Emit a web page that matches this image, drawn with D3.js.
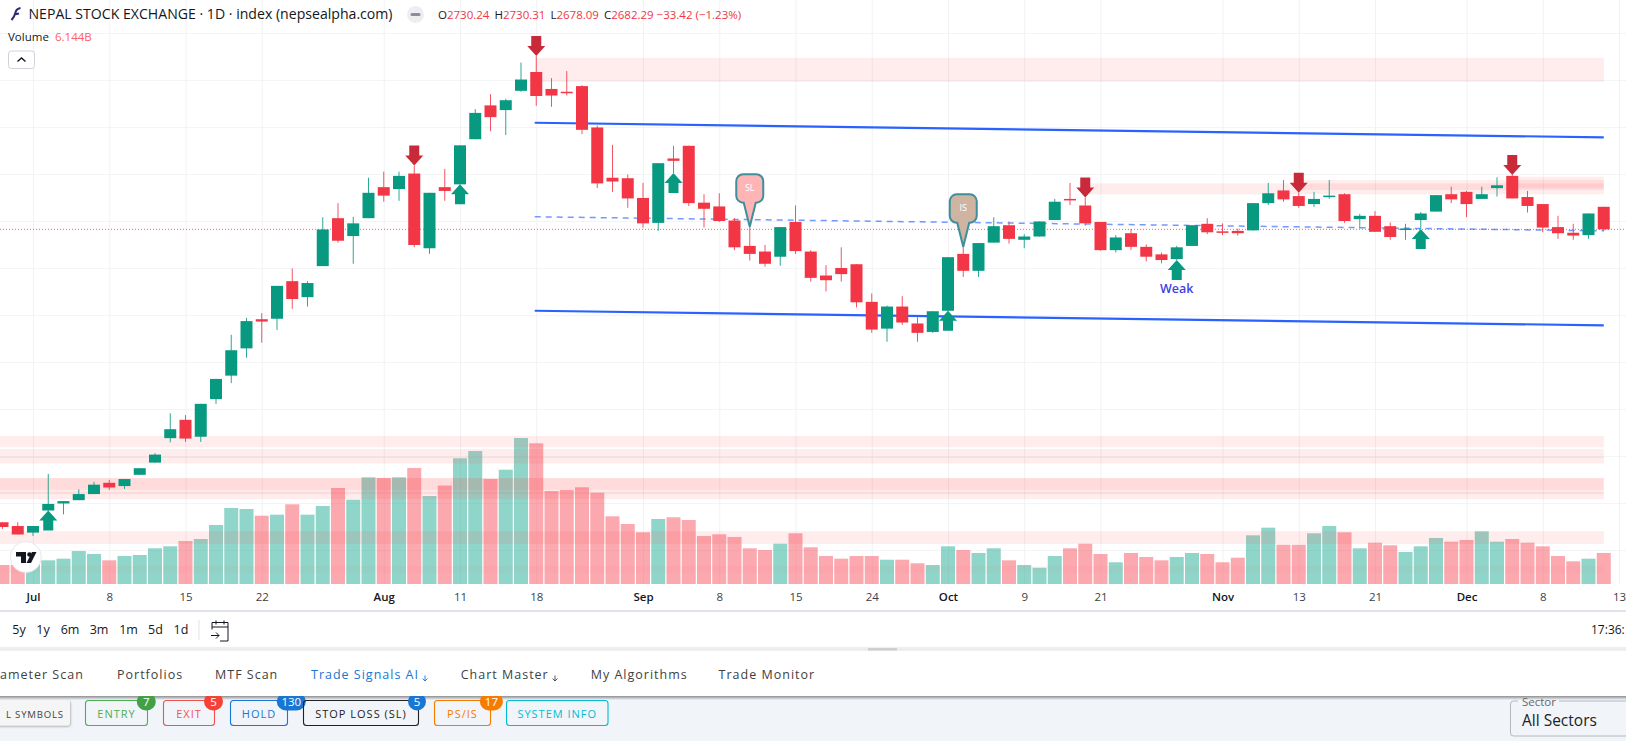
<!DOCTYPE html>
<html>
<head>
<meta charset="utf-8">
<title>NEPAL STOCK EXCHANGE</title>
<script src="https://cdn.jsdelivr.net/npm/d3@7/dist/d3.min.js"></script>
<style>
  html, body { margin: 0; padding: 0; background: #fff; overflow: hidden; }
  svg { display: block; font-family: "Open Sans", "Noto Sans", sans-serif; }
</style>
</head>
<body>
<svg id="chart" width="1626" height="741"></svg>
<script>
// Daily OHLC of the index, oldest session first
const opens = [
  2059,2051,2037,2084,2099,2106,2119,2143,2136,2160,
  2186,2238,2277,2241,2321,2371,2429,2491,2492,2572,
  2538,2604,2706,2668,2706,2772,2768,2801,2642,2772,
  2778,2874,2946,2936,2977,3017,2981,2975,2987,2899,
  2792,2791,2749,2696,2833,2860,2739,2731,2701,2647,
  2635,2624,2698,2635,2584,2600,2608,2528,2471,2518,
  2482,2464,2509,2630,2594,2654,2691,2660,2667,2702,
  2747,2733,2698,2638,2674,2645,2629,2619,2647,2694,
  2678,2679,2680,2738,2765,2753,2736,2752,2757,2704,
  2711,2689,2682,2702,2720,2757,2762,2747,2770,2796,
  2751,2736,2687,2675,2670,2730.24];
const highs = [
  2059,2059,2051,2162,2104,2129,2145,2149,2151,2174,
  2206,2291,2287,2311,2364,2458,2494,2504,2562,2599,
  2572,2708,2738,2709,2792,2805,2805,2818,2760,2811,
  2861,2938,2970,2960,3037,3051,3004,3019,2989,2903,
  2862,2799,2781,2823,2860,2860,2757,2759,2706,2688,
  2649,2687,2733,2638,2606,2644,2608,2546,2520,2540,
  2495,2508,2623,2645,2653,2708,2699,2672,2699,2747,
  2781,2750,2698,2670,2683,2650,2633,2647,2691,2706,
  2695,2684,2738,2781,2787,2760,2762,2787,2759,2715,
  2721,2697,2694,2719,2755,2773,2764,2773,2793,2798,
  2764,2736,2711,2694,2716,2730.31];
const lows = [
  2045,2033,2030,2084,2076,2106,2119,2128,2130,2160,
  2186,2229,2230,2230,2311,2355,2409,2441,2468,2513,
  2518,2604,2654,2609,2706,2741,2743,2644,2630,2743,
  2778,2874,2891,2883,2975,2945,2943,2967,2885,2770,
  2762,2728,2686,2679,2802,2732,2686,2698,2638,2616,
  2603,2605,2630,2571,2550,2571,2516,2462,2443,2479,
  2443,2462,2509,2581,2581,2654,2652,2642,2667,2702,
  2734,2690,2637,2633,2638,2614,2610,2617,2647,2672,
  2670,2669,2680,2734,2741,2728,2730,2747,2696,2684,
  2677,2660,2660,2683,2720,2738,2708,2747,2752,2748,
  2718,2676,2662,2660,2662,2678.09];
const closes = [
  2049,2033,2051,2098,2104,2119,2139,2133,2151,2174,
  2203,2257,2237,2311,2364,2425,2487,2486,2562,2534,
  2568,2682,2658,2695,2760,2754,2796,2649,2760,2764,
  2861,2930,2921,2957,3001,2966,2967,2972,2894,2780,
  2784,2748,2695,2823,2828,2738,2726,2700,2644,2630,
  2609,2687,2636,2579,2574,2587,2527,2469,2518,2484,
  2462,2508,2623,2594,2653,2689,2662,2667,2699,2741,
  2745,2695,2638,2665,2645,2624,2617,2644,2691,2676,
  2675,2674,2738,2759,2746,2732,2747,2754,2700,2711,
  2677,2666,2684,2716,2755,2746,2736,2757,2776,2748,
  2732,2686,2674,2669,2716,2682.29];

// Session volume in billions
const volumes = [
  3.76,3.76,4.10,4.69,5.01,6.53,5.94,4.69,5.54,5.74,
  7.07,7.46,8.51,8.91,11.68,15.05,14.85,13.52,13.72,15.78,
  13.72,15.44,19.01,16.69,21.13,20.99,21.13,22.97,17.42,19.50,
  24.89,26.33,20.79,22.63,28.91,27.86,18.41,18.61,19.15,18.08,
  13.40,11.88,10.24,12.87,13.21,12.67,9.50,9.84,9.31,7.07,
  6.73,7.98,10.04,7.27,5.54,5.01,5.54,5.54,4.81,4.81,
  4.10,3.76,7.46,6.73,6.14,7.07,4.69,3.76,3.23,5.54,
  7.07,7.98,5.94,4.30,6.14,5.35,4.69,5.35,6.14,5.94,
  4.30,5.21,9.64,11.15,7.78,7.78,10.04,11.48,10.24,7.07,
  8.18,7.66,6.34,7.46,9.11,8.38,8.71,10.43,8.38,8.91,
  8.18,7.46,5.54,4.49,5.01,6.144];

// Time axis
const tickIndex  = [2,7,12,17,25,30,35,42,47,52,57,62,67,72,80,85,90,96,101,106];
const tickLabels = ["Jul","8","15","22","Aug","11","18","Sep","8","15","24","Oct","9","21","Nov","13","21","Dec","8","13"];
const monthLabels = ["Jul","Aug","Sep","Oct","Nov","Dec"];

// Price grid levels
const priceLevels = [2000,2100,2200,2300,2400,2500,2600,2700,2800,2900,3000,3100];

// Supply zones: first session, upper price, lower price
const zoneStarts = [35,-1,-1,-1,-1,-1,-1,-1,-1,-1,71,85,99];
const zoneTops   = [3047,2242.5,2215,2198,2153,2153,2128,2124,2040,1966,2780,2787,2794];
const zoneBottoms= [2996,2218.5,2196,2184,2128,2128,2119,2108,2013,1952,2757,2766,2770];

// Sloping channel: session range and the price at each end
const channelSessions = [34.9,105];
const channelUpper = [2909,2878];
const channelLower = [2509,2478];
const channelMiddle = [2709,2679];

// Signals
const buySessions  = [3,30,44,62,77,93];
const sellSessions = [27,35,71,85,99];
const pinSessions  = [49,63];
const pinLabels    = ["SL","IS"];
const pinFills     = ["#ffb5b5","#cfb5a1"];

// Ticker values shown in the legend
const lastClose = 2682.29;
const legendParts = [["O","2730.24"],["H","2730.31"],["L","2678.09"],["C","2682.29 −33.42 (−1.23%)"]];

// Text rows around the plot
const rangeLabels = ["5y","1y","6m","3m","1m","5d","1d"];
const rangeCenters = [19,43,70,99,128.5,155.5,181];
const tabLabels = ["Portfolios","MTF Scan","Trade Signals AI","Chart Master","My Algorithms","Trade Monitor"];
const tabStarts = [117,215,311,460.7,590.7,718.6];

const UP = "#089981", DOWN = "#f23645", BLUE = "#2962ff";
const VOL_UP = "#22ab94", VOL_DOWN = "#f7525f";
const W = 1626, H = 741;
const svg = d3.select("#chart");

const x = d3.scaleLinear().domain([0,105]).range([2.5,1603.75]);
const y = d3.scaleLinear().domain([2000,3100]).range([550,33]);
const yVol = d3.scaleLinear().domain([0,28.91]).range([584,438]);
const n = closes.length;
const isUp = i => closes[i] >= opens[i];

// Grid
const grid = svg.append("g");
grid.append("g").call(d3.axisLeft(y).tickValues(priceLevels).tickSize(-W).tickFormat(""))
  .call(g => g.select(".domain").remove())
  .call(g => g.selectAll("line").attr("stroke","#f3f4f6").attr("x1",0).attr("x2",W));
grid.append("g").call(d3.axisBottom(x).tickValues(tickIndex).tickSize(584).tickFormat(""))
  .call(g => g.select(".domain").remove())
  .call(g => g.selectAll("line").attr("stroke","#f1f2f5"));

// Volume histogram
svg.append("g").selectAll("rect").data(volumes).join("rect")
  .attr("x",(d,i)=>x(i)-7).attr("width",14)
  .attr("y",d=>yVol(d)).attr("height",d=>yVol(0)-yVol(d))
  .attr("fill",(d,i)=>isUp(i)?VOL_UP:VOL_DOWN).attr("fill-opacity",0.5);

// Zones
svg.append("g").selectAll("rect").data(zoneStarts).join("rect")
  .attr("x",d=>d<0?0:x(d)).attr("y",(d,i)=>y(zoneTops[i]))
  .attr("width",d=>x(105)-(d<0?0:x(d)))
  .attr("height",(d,i)=>y(zoneBottoms[i])-y(zoneTops[i]))
  .attr("fill","#ff5252").attr("fill-opacity",(d,i)=>i===9?0.04:0.11);

// Last price line
svg.append("line").attr("x1",0).attr("x2",W).attr("y1",y(lastClose)).attr("y2",y(lastClose))
  .attr("stroke",DOWN).attr("stroke-width",1).attr("stroke-dasharray","1 2").attr("stroke-opacity",0.8);

// Channel
const channelLine = d3.line().x((d,i)=>x(channelSessions[i])).y(d=>y(d));
svg.append("path").attr("d",channelLine(channelUpper)).attr("fill","none").attr("stroke",BLUE).attr("stroke-width",2.2);
svg.append("path").attr("d",channelLine(channelLower)).attr("fill","none").attr("stroke",BLUE).attr("stroke-width",2.2);
svg.append("path").attr("d",channelLine(channelMiddle)).attr("fill","none").attr("stroke",BLUE).attr("stroke-width",1.5)
  .attr("stroke-dasharray","6 5").attr("stroke-opacity",0.65);

// Candles
const candles = svg.append("g").selectAll("g").data(d3.range(n)).join("g");
candles.append("line")
  .attr("x1",i=>x(i)).attr("x2",i=>x(i)).attr("y1",i=>y(highs[i])).attr("y2",i=>y(lows[i]))
  .attr("stroke",i=>isUp(i)?UP:DOWN).attr("stroke-width",1).attr("stroke-opacity",0.85);
candles.append("rect")
  .attr("x",i=>x(i)-6).attr("width",12)
  .attr("y",i=>y(Math.max(opens[i],closes[i])))
  .attr("height",i=>Math.max(1.5,Math.abs(y(opens[i])-y(closes[i]))))
  .attr("fill",i=>isUp(i)?UP:DOWN);

// Buy and sell arrows sit on the session's low and high
const arrow = (cx,tip,dir) => {
  const p = d3.path();
  p.moveTo(cx,tip);
  p.lineTo(cx+9,tip+dir*10);
  p.lineTo(cx+5,tip+dir*10);
  p.lineTo(cx+5,tip+dir*20);
  p.lineTo(cx-5,tip+dir*20);
  p.lineTo(cx-5,tip+dir*10);
  p.lineTo(cx-9,tip+dir*10);
  p.closePath();
  return p.toString();
};
svg.append("g").selectAll("path").data(buySessions).join("path")
  .attr("d",i=>arrow(x(i),y(lows[i]),1)).attr("fill",UP);
svg.append("g").selectAll("path").data(sellSessions).join("path")
  .attr("d",i=>arrow(x(i),y(highs[i]),-1)).attr("fill","#c92a3a");

// Callout pins above the sessions they annotate
const pin = (cx,tip) => {
  const t = tip-52.5, b = tip-24, hw = 13.5, r = 7, p = d3.path();
  p.moveTo(cx-hw+r,t);
  p.lineTo(cx+hw-r,t);
  p.arcTo(cx+hw,t,cx+hw,t+r,r);
  p.lineTo(cx+hw,b-r);
  p.arcTo(cx+hw,b,cx+hw-r,b,r);
  p.lineTo(cx+6,b);
  p.lineTo(cx,tip);
  p.lineTo(cx-6,b);
  p.lineTo(cx-hw+r,b);
  p.arcTo(cx-hw,b,cx-hw,b-r,r);
  p.lineTo(cx-hw,t+r);
  p.arcTo(cx-hw,t,cx-hw+r,t,r);
  p.closePath();
  return p.toString();
};
const pins = svg.append("g").selectAll("g").data(pinSessions).join("g");
pins.append("path").attr("d",i=>pin(x(i),y(highs[i])))
  .attr("fill",(d,k)=>pinFills[k]).attr("stroke","#3d8f9c").attr("stroke-width",2);
pins.append("text").attr("x",i=>x(i)).attr("y",i=>y(highs[i])-38)
  .attr("text-anchor","middle").attr("dominant-baseline","middle")
  .attr("fill","#fff").attr("font-size",9).text((d,k)=>pinLabels[k]);

// Label under the weak buy signal
svg.append("text").attr("x",x(77)).attr("y",y(lows[77])+29.5).attr("dominant-baseline","middle")
  .attr("text-anchor","middle").attr("fill","#3f3fe6").attr("font-size",12.5).attr("font-weight",600).text("Weak");

// Time axis
svg.append("g").attr("transform","translate(0,584)")
  .call(d3.axisBottom(x).tickValues(tickIndex).tickSize(0).tickPadding(9).tickFormat((d,i)=>tickLabels[i]))
  .call(g => g.select(".domain").remove())
  .call(g => g.selectAll("text")
     .attr("font-family","'Open Sans','Noto Sans',sans-serif").attr("font-size",11.5)
     .attr("fill",function(){return monthLabels.includes(this.textContent)?"#131722":"#3c3f48";})
     .attr("font-weight",function(){return monthLabels.includes(this.textContent)?600:400;}));

// Legend row
const txt = (tx,ty,s,size,fill,extra) => {
  const t = svg.append("text").attr("x",tx).attr("y",ty).attr("dominant-baseline","middle")
    .attr("font-size",size).attr("fill",fill).text(s);
  if (extra) extra(t);
  return t;
};
svg.append("path").attr("d","M11.5 20C14 17 15 15 15.5 12.5C16 10 17.5 8.5 20.5 8M14 14.5L19 13.5")
  .attr("fill","none").attr("stroke","#2f2a78").attr("stroke-width",2);
txt(28.5,15.5,"NEPAL STOCK EXCHANGE · 1D · index (nepsealpha.com)",14.1,"#131722");
svg.append("circle").attr("cx",415.5).attr("cy",14.5).attr("r",8.5).attr("fill","#eceef2");
svg.append("rect").attr("x",410.5).attr("y",13).attr("width",10).attr("height",3).attr("rx",1.5).attr("fill","#8b8e97");
const ohlc = svg.append("text").attr("x",438).attr("y",15.5).attr("dominant-baseline","middle").attr("font-size",11.5);
legendParts.forEach(([k,v],i)=>{
  ohlc.append("tspan").attr("dx",i?5:0).attr("fill","#131722").text(k);
  ohlc.append("tspan").attr("fill",DOWN).text(v);
});
txt(8,37.5,"Volume",11.5,"#131722");
txt(55,37.5,"6.144B",11.5,"#ff5d68");
svg.append("rect").attr("x",8.5).attr("y",51).attr("width",26).attr("height",17.5).attr("rx",3)
  .attr("fill","#fff").attr("stroke","#cfd2da");
svg.append("path").attr("d","M17.5 61.5L21.5 58L25.5 61.5").attr("fill","none").attr("stroke","#131722").attr("stroke-width",1.4);

// Watermark badge
svg.append("circle").attr("cx",25.8).attr("cy",557).attr("r",15.5).attr("fill","#fff").attr("stroke","#e6e8ee");
svg.append("path").attr("d","M16 552H26V563H21V556.5H16Z").attr("fill","#131722");
svg.append("circle").attr("cx",29.5).attr("cy",554.5).attr("r",2.3).attr("fill","#131722");
svg.append("path").attr("d","M32 552H36.5L31 563H26.5Z").attr("fill","#131722");

// Range toolbar
svg.append("rect").attr("x",0).attr("y",610).attr("width",W).attr("height",2).attr("fill","#e0e3eb");
rangeLabels.forEach((s,i)=>txt(rangeCenters[i],630.5,s,12.5,"#131722",t=>t.attr("text-anchor","middle")));
svg.append("rect").attr("x",198.5).attr("y",620).attr("width",1).attr("height",20).attr("fill","#e0e3eb");
svg.append("path").attr("d","M212 629.5V622.5H228V641H220M212 627H228M216 620.5V624.5M224 620.5V624.5M211 635.5H219M216 632.5L219 635.5L216 638.5")
  .attr("fill","none").attr("stroke","#131722").attr("stroke-width",1);
txt(1591,630.5,"17:36:",12,"#131722");

// Tab strip
svg.append("rect").attr("x",0).attr("y",647).attr("width",W).attr("height",4).attr("fill","#eeeeee");
svg.append("rect").attr("x",868).attr("y",648).attr("width",29).attr("height",2.5).attr("fill","#cfcfcf");
svg.append("rect").attr("x",0).attr("y",696).attr("width",W).attr("height",45).attr("fill","#f1f5f9");
const defs = svg.append("defs");
const grad = defs.append("linearGradient").attr("id","panelEdge").attr("x1",0).attr("x2",0).attr("y1",0).attr("y2",1);
grad.append("stop").attr("offset",0).attr("stop-color","#8d8f92");
grad.append("stop").attr("offset",1).attr("stop-color","#f1f5f9");
const lift = defs.append("filter").attr("id","lift");
lift.append("feDropShadow").attr("dx",0.5).attr("dy",1).attr("stdDeviation",1.2).attr("flood-opacity",0.35);
svg.append("rect").attr("x",0).attr("y",696).attr("width",W).attr("height",4).attr("fill","url(#panelEdge)");

// Signal filter buttons
const buttonRows = [
  {label:"ENTRY", x0:85.5, x1:147.5, color:"#4caf50", ink:"#4caf50", badge:"7", bx:146.3, bw:19, bc:"#43a047"},
  {label:"EXIT", x0:163.5, x1:214.5, color:"#ef5350", ink:"#ef5350", badge:"5", bx:213.5, bw:19, bc:"#f44336"},
  {label:"HOLD", x0:230.5, x1:287.5, color:"#1976d2", ink:"#1976d2", badge:"130", bx:291.3, bw:29, bc:"#1976d2"},
  {label:"STOP LOSS (SL)", x0:303.5, x1:418.5, color:"#222", ink:"#222", badge:"5", bx:417, bw:18, bc:"#1976d2"},
  {label:"PS/IS", x0:434.5, x1:490.5, color:"#f57c00", ink:"#f57c00", badge:"17", bx:491.4, bw:23, bc:"#f57c00"},
  {label:"SYSTEM INFO", x0:506.5, x1:608, color:"#00bcd4", ink:"#00bcd4"}
];
svg.append("rect").attr("x",-10).attr("y",700).attr("width",80).attr("height",25.5).attr("rx",3)
  .attr("fill","#f5f5f5").attr("filter","url(#lift)");
txt(6,715,"L SYMBOLS",9.6,"#444",t=>t.attr("letter-spacing",0.8));
buttonRows.forEach(b=>{
  svg.append("rect").attr("x",b.x0).attr("y",700.5).attr("width",b.x1-b.x0).attr("height",25).attr("rx",3)
    .attr("fill","none").attr("stroke",b.color).attr("stroke-width",1.1);
  txt((b.x0+b.x1)/2,715,b.label,11,b.ink,t=>t.attr("text-anchor","middle").attr("letter-spacing",1));
  if (b.badge) {
    svg.append("rect").attr("x",b.bx-b.bw/2).attr("y",692.5).attr("width",b.bw).attr("height",18).attr("rx",9).attr("fill",b.bc);
    txt(b.bx,702.5,b.badge,11.5,"#fff",t=>t.attr("text-anchor","middle"));
  }
});

// White tab panel laid over the tops of the badges
svg.append("rect").attr("x",0).attr("y",651).attr("width",W).attr("height",45).attr("fill","#fff");
txt(0,675.5,"ameter Scan",12.5,"#3f3f3f",t=>t.attr("letter-spacing",1));
tabLabels.forEach((s,i)=>txt(tabStarts[i],675.5,s,12.5,i===2?"#1976d2":"#3f3f3f",t=>t.attr("letter-spacing",1)));
[[425,"#1976d2"],[555,"#3f3f3f"]].forEach(([ax,c])=>
  svg.append("path").attr("d",`M${ax} 675.5V681M${ax-2.5} 678.5L${ax} 681L${ax+2.5} 678.5`).attr("fill","none").attr("stroke",c).attr("stroke-width",0.9));

// Sector selector
svg.append("path").attr("d","M1518 701H1513.5Q1510.5 701 1510.5 704V733Q1510.5 736 1513.5 736H1626M1559 701H1626")
  .attr("fill","none").attr("stroke","#b5b8bd");
txt(1522,702.5,"Sector",11.5,"#666");
txt(1522,721.5,"All Sectors",15.5,"#222");
</script>
</body>
</html>
